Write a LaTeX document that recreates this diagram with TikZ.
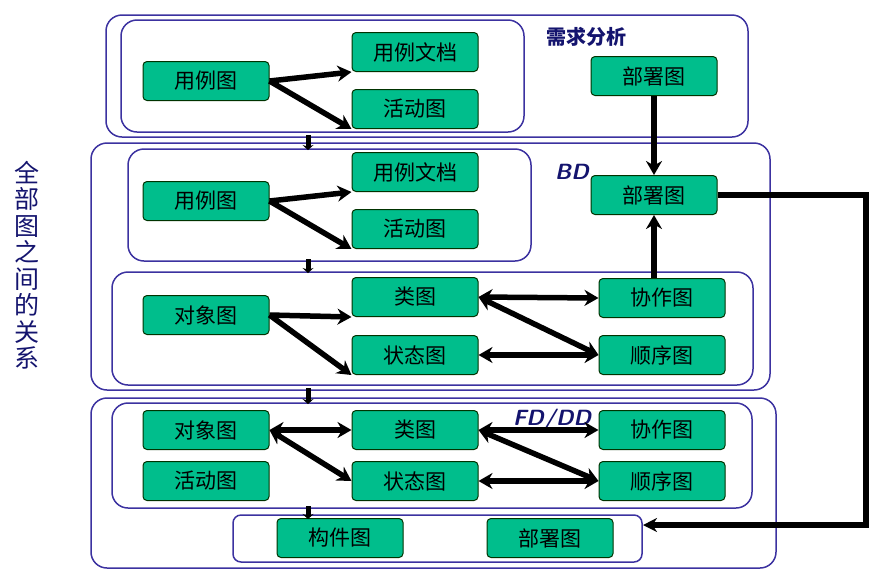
\documentclass[tikz,border=0pt]{standalone}
\usepackage{fontspec}
\newfontfamily\cjk{Noto Sans CJK SC}
\usetikzlibrary{arrows.meta}
\definecolor{gbox}{RGB}{0,190,140}
\definecolor{bline}{RGB}{60,50,160}
\definecolor{navy}{RGB}{20,20,110}
\begin{document}
\begin{tikzpicture}[x=1pt,y=-1pt,
  gb/.style={draw=black!80!green,line width=1pt,fill=gbox,rounded corners=4pt,minimum width=126pt,minimum height=39pt,font=\cjk\fontsize{21}{21}\selectfont,inner sep=0pt},
  frame/.style={draw=bline,line width=1.5pt,rounded corners=16pt},
  arr/.style={line width=5.5pt,draw=black,-{Stealth[length=14pt,width=16pt]}},
  darr/.style={line width=5.5pt,draw=black,{Stealth[length=14pt,width=16pt]}-{Stealth[length=14pt,width=16pt]}},
  sarr/.style={line width=5pt,draw=black,-{Stealth[length=5pt,width=11pt]}}]
\useasboundingbox (0,0) rectangle (885,582);
% frames
\draw[frame] (106,15) rectangle (748,137);
\draw[frame] (121,20) rectangle (524,132);
\draw[frame] (91,143) rectangle (770,390);
\draw[frame] (128,149) rectangle (531,261);
\draw[frame] (112,272) rectangle (753,385);
\draw[frame] (91,398) rectangle (776,568);
\draw[frame] (112,403) rectangle (752,508);
\draw[frame,rounded corners=8pt] (233,515) rectangle (642,562);
% labels
\node[font=\cjk\bfseries\fontsize{20}{20}\selectfont,text=navy] (t1) at (586,37) {需求分析};
\node[font=\sffamily\bfseries\itshape\fontsize{22}{22}\selectfont,text=navy] (t2) at (572,172) {BD};
\node[font=\sffamily\bfseries\itshape\fontsize{22}{22}\selectfont,text=navy] (t3) at (552,420) {FD/DD};
\node[font=\cjk\fontsize{25}{26.5}\selectfont,text=navy,align=center] (t4) at (27,265) {全\\部\\图\\之\\间\\的\\关\\系};
% section 1
\node[gb] (a1) at (206,81) {用例图};
\node[gb] (a2) at (415,52) {用例文档};
\node[gb] (a3) at (415,109) {活动图};
\node[gb] (a4) at (654,76) {部署图};
% BD
\node[gb] (b1) at (206,201) {用例图};
\node[gb] (b2) at (415,172) {用例文档};
\node[gb] (b3) at (415,229) {活动图};
\node[gb] (b4) at (654,195) {部署图};
\node[gb] (c1) at (206,315) {对象图};
\node[gb] (c2) at (415,297) {类图};
\node[gb] (c3) at (415,355) {状态图};
\node[gb] (c4) at (662,298) {协作图};
\node[gb] (c5) at (662,355) {顺序图};
% FD
\node[gb] (d1) at (206,430) {对象图};
\node[gb] (d2) at (415,430) {类图};
\node[gb] (d3) at (662,430) {协作图};
\node[gb] (d4) at (206,481) {活动图};
\node[gb] (d5) at (415,481) {状态图};
\node[gb] (d6) at (662,481) {顺序图};
\node[gb] (e1) at (340,538) {构件图};
\node[gb] (e2) at (550,538) {部署图};
% arrows
\draw[arr] (a1.east) -- (a2.south west);
\draw[arr] (a1.east) -- (a3.south west);
\draw[arr] (b1.east) -- (b2.south west);
\draw[arr] (b1.east) -- (b3.south west);
\draw[arr] (c1.east) -- (c2.south west);
\draw[arr] (c1.east) -- (c3.south west);
\draw[darr] (c2.east) -- (c4.west);
\draw[darr] (c3.east) -- (c5.west);
\draw[darr] (c2.east) -- (c5.west);
\draw[darr] (d1.east) -- (d2.west);
\draw[darr] (d1.east) -- (d5.west);
\draw[darr] (d2.east) -- (d3.west);
\draw[darr] (d2.east) -- (d6.west);
\draw[darr] (d5.east) -- (d6.west);
\draw[arr] (a4.south) -- (b4.north);
\draw[arr] (c4.north -| b4.south) -- (b4.south);
\coordinate (s1) at (308,135); \coordinate (s2) at (308,150);
\coordinate (s3) at (308,259); \coordinate (s4) at (308,273);
\coordinate (s5) at (308,388); \coordinate (s6) at (308,404);
\coordinate (s7) at (308,506); \coordinate (s8) at (308,519);
\draw[sarr] (s1) -- (s2);
\draw[sarr] (s3) -- (s4);
\draw[sarr] (s5) -- (s6);
\draw[sarr] (s7) -- (s8);
\coordinate (r1) at (866,195); \coordinate (r2) at (866,525); \coordinate (r3) at (643,525);
\draw[line width=5.5pt,-{Stealth[length=14pt,width=14pt]}] (b4.east) -- (r1) -- (r2) -- (r3);
\end{tikzpicture}
\end{document}
